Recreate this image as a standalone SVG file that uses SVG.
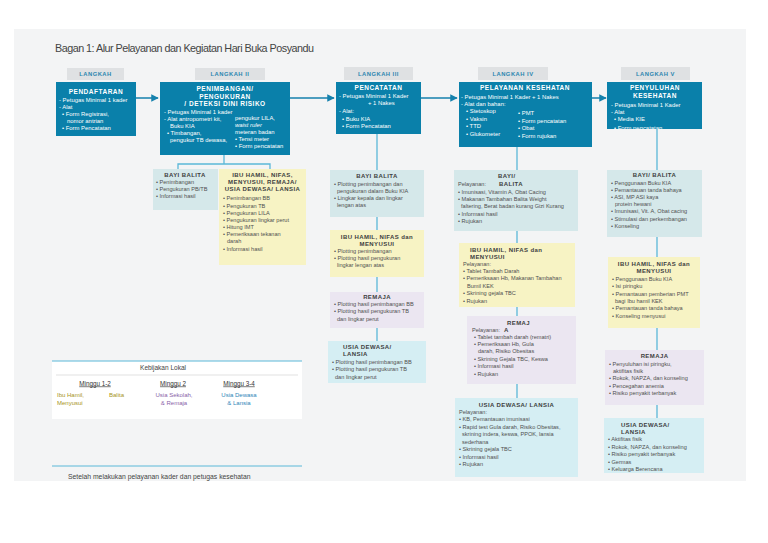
<svg xmlns="http://www.w3.org/2000/svg" width="768" height="543" viewBox="0 0 768 543">
<defs>
<style>
text{font-family:"Liberation Sans",Arial,sans-serif}
.w{fill:#fff;font-size:5.9px}
.wb{fill:#fff;font-size:6.5px;font-weight:bold;letter-spacing:0.5px}
.g{fill:#505050;font-size:5.6px}
.gb{fill:#404040;font-size:6px;font-weight:bold;letter-spacing:0.4px}
.h{fill:#2c86b0;font-size:5.8px;font-weight:bold;letter-spacing:0.5px}
.hd{fill:#dfe1e3}
.bx{fill:#0a80aa}
.teal{fill:#d5e8ea}
.yel{fill:#f7f3c4}
.lav{fill:#ebe6f1}
.cy{fill:#d5eef3}
.ln{stroke:#5bb8d8;stroke-width:1.3;fill:none}
.ar{stroke:#1581ad;stroke-width:1.5;fill:none}
</style>
<marker id="ah" viewBox="0 0 10 10" refX="9" refY="5" markerWidth="5" markerHeight="5" orient="auto">
<path d="M0,0 L10,5 L0,10 z" fill="#1581ad"/>
</marker>
<clipPath id="panel"><rect x="14" y="29" width="732" height="452"/></clipPath>
<clipPath id="c5"><rect x="607" y="82" width="95" height="47"/></clipPath>
</defs>
<rect width="768" height="543" fill="#fff"/>
<rect x="14" y="29" width="732" height="452" fill="#f3f4f5"/>
<text x="55" y="52" style="font-size:10.8px;fill:#444" textLength="259">Bagan 1: Alur Pelayanan dan Kegiatan Hari Buka Posyandu</text>

<g id="connectors">
<line class="ar" x1="136" y1="98" x2="158" y2="98" marker-end="url(#ah)"/>
<line class="ar" x1="290" y1="98" x2="334" y2="98" marker-end="url(#ah)"/>
<line class="ar" x1="421" y1="98" x2="457" y2="98" marker-end="url(#ah)"/>
<line class="ar" x1="592" y1="98" x2="606" y2="98" marker-end="url(#ah)"/>
<path class="ln" d="M224,155 V164 M178,170 V164 H270 V170"/>
<path class="ln" d="M377,134 V170 M377,217 V230 M377,277 V292 M377,328 V341"/>
<path class="ln" d="M517,147 V170 M517,231 V243 M517,307 V316 M517,384 V398"/>
<path class="ln" d="M657,129 V170 M657,237 V257 M657,328 V350 M657,405 V418"/>
</g>

<g id="step1">
<rect class="hd" x="67" y="68" width="57" height="12"/>
<text class="h" x="95.5" y="76.2" text-anchor="middle">LANGKAH</text>
<rect class="bx" x="56" y="82" width="80" height="54"/>
<text class="wb" x="96" y="94" text-anchor="middle">PENDAFTARAN</text>
<text class="w" x="59" y="102">- Petugas Minimal 1 kader</text>
<text class="w" x="59" y="109">- Alat</text>
<text class="w" x="62" y="116">• Form Registrasi,</text>
<text class="w" x="67" y="122.5">nomor antrian</text>
<text class="w" x="62" y="130">• Form Pencatatan</text>
</g>

<g id="step2">
<rect class="hd" x="195" y="68" width="70" height="12"/>
<text class="h" x="230" y="76.2" text-anchor="middle">LANGKAH II</text>
<rect class="bx" x="160" y="82" width="130" height="73"/>
<text class="wb" x="225" y="91" text-anchor="middle">PENIMBANGAN/</text>
<text class="wb" x="225" y="98.5" text-anchor="middle">PENGUKURAN</text>
<text class="wb" x="225" y="106" text-anchor="middle">/ DETEKSI DINI RISIKO</text>
<text class="w" x="164" y="114">- Petugas Minimal 1 kader</text>
<text class="w" x="164" y="121">- Alat antropometri kit,</text>
<text class="w" x="170" y="128">Buku KIA</text>
<text class="w" x="167" y="135">• Timbangan,</text>
<text class="w" x="170" y="142">pengukur TB dewasa,</text>
<text class="w" x="235" y="120">pengukur LILA,</text>
<text class="w" x="235" y="127" font-style="italic">waist ruler</text>
<text class="w" x="235" y="134">meteran badan</text>
<text class="w" x="235" y="141">• Tensi meter</text>
<text class="w" x="235" y="148">• Form pencatatan</text>
</g>

<g id="step3">
<rect class="hd" x="344" y="67" width="69" height="13"/>
<text class="h" x="378.5" y="75.7" text-anchor="middle">LANGKAH III</text>
<rect class="bx" x="336" y="82" width="85" height="52"/>
<text class="wb" x="378.5" y="90" text-anchor="middle">PENCATATAN</text>
<text class="w" x="339" y="97.5">- Petugas Minimal 1 Kader</text>
<text class="w" x="368" y="104.5">+ 1 Nakes</text>
<text class="w" x="339" y="113">- Alat:</text>
<text class="w" x="342" y="120.5">• Buku KIA</text>
<text class="w" x="342" y="128">• Form Pencatatan</text>
</g>

<g id="step4">
<rect class="hd" x="478" y="67" width="70" height="13"/>
<text class="h" x="513" y="75.7" text-anchor="middle">LANGKAH IV</text>
<rect class="bx" x="459" y="82" width="133" height="65"/>
<text class="wb" x="525" y="90" text-anchor="middle">PELAYANAN KESEHATAN</text>
<text class="w" x="461" y="98.5">- Petugas Minimal 1 Kader + 1 Nakes</text>
<text class="w" x="461" y="105.5">- Alat dan bahan:</text>
<text class="w" x="466" y="113">• Stetoskop</text>
<text class="w" x="466" y="120.5">• Vaksin</text>
<text class="w" x="466" y="128">• TTD</text>
<text class="w" x="466" y="135.5">• Glukometer</text>
<text class="w" x="518" y="115">• PMT</text>
<text class="w" x="518" y="122.5">• Form pencatatan</text>
<text class="w" x="518" y="130">• Obat</text>
<text class="w" x="518" y="137.5">• Form rujukan</text>
</g>

<g id="step5">
<rect class="hd" x="621" y="67" width="69" height="13"/>
<text class="h" x="655.5" y="75.7" text-anchor="middle">LANGKAH V</text>
<rect class="bx" x="607" y="82" width="95" height="47"/>
<text class="wb" x="655" y="90" text-anchor="middle">PENYULUHAN</text>
<text class="wb" x="655" y="97.5" text-anchor="middle">KESEHATAN</text>
<g clip-path="url(#c5)">
<text class="w" x="611" y="106.5">- Petugas Minimal 1 Kader</text>
<text class="w" x="611" y="113.5">- Alat</text>
<text class="w" x="614" y="121">• Media KIE</text>
<text class="w" x="614" y="130">• Form pencatatan</text>
</g>
</g>

<g id="s2-bayi">
<rect class="teal" x="153" y="169" width="65" height="41"/>
<text class="gb" x="185" y="176.5" text-anchor="middle">BAYI BALITA</text>
<text class="g" x="156" y="184">• Penimbangan</text>
<text class="g" x="156" y="191">• Pengukuran PB/TB</text>
<text class="g" x="156" y="198">• Informasi hasil</text>
</g>
<g id="s2-ibu">
<rect class="yel" x="219" y="169" width="87" height="96"/>
<text class="gb" x="262.5" y="177" text-anchor="middle">IBU HAMIL, NIFAS,</text>
<text class="gb" x="262.5" y="184" text-anchor="middle">MENYUSUI, REMAJA/</text>
<text class="gb" x="262.5" y="191" text-anchor="middle">USIA DEWASA/ LANSIA</text>
<text class="g" x="223" y="200">• Penimbangan BB</text>
<text class="g" x="223" y="207.5">• Pengukuran TB</text>
<text class="g" x="223" y="214.5">• Pengukuran LILA</text>
<text class="g" x="223" y="221.5">• Pengukuran lingkar perut</text>
<text class="g" x="223" y="229">• Hitung IMT</text>
<text class="g" x="223" y="236">• Pemeriksaan tekanan</text>
<text class="g" x="227" y="243">darah</text>
<text class="g" x="223" y="250.5">• Informasi hasil</text>
</g>

<g id="s3-bayi">
<rect class="teal" x="330" y="170" width="94" height="47"/>
<text class="gb" x="377" y="178" text-anchor="middle">BAYI BALITA</text>
<text class="g" x="334" y="185.5">• Plotting penimbangan dan</text>
<text class="g" x="337" y="192.5">pengukuran dalam Buku KIA</text>
<text class="g" x="334" y="200">• Lingkar kepala dan lingkar</text>
<text class="g" x="337" y="207">lengan atas</text>
</g>
<g id="s3-ibu">
<rect class="yel" x="330" y="230" width="94" height="47"/>
<text class="gb" x="377" y="238.5" text-anchor="middle">IBU HAMIL, NIFAS dan</text>
<text class="gb" x="377" y="245.5" text-anchor="middle">MENYUSUI</text>
<text class="g" x="334" y="252.5">• Plotting penimbangan</text>
<text class="g" x="334" y="259.5">• Plotting hasil pengukuran</text>
<text class="g" x="337" y="267">lingkar lengan atas</text>
</g>
<g id="s3-remaja">
<rect class="lav" x="330" y="292" width="94" height="36"/>
<text class="gb" x="377" y="299" text-anchor="middle">REMAJA</text>
<text class="g" x="334" y="306">• Plotting hasil penimbangan BB</text>
<text class="g" x="334" y="313">• Plotting hasil pengukuran TB</text>
<text class="g" x="337" y="320.5">dan lingkar perut</text>
</g>
<g id="s3-dewasa">
<rect class="cy" x="328" y="341" width="98" height="42"/>
<text class="gb" x="343" y="349">USIA DEWASA/</text>
<text class="gb" x="343" y="356">LANSIA</text>
<text class="g" x="332" y="363.5">• Plotting hasil penimbangan BB</text>
<text class="g" x="332" y="371">• Plotting hasil pengukuran TB</text>
<text class="g" x="335" y="378.5">dan lingkar perut</text>
</g>

<g id="s4-bayi">
<rect class="teal" x="454" y="170" width="124" height="61"/>
<text class="gb" x="498" y="177.5">BAYI/</text>
<text class="g" x="458" y="186">Pelayanan:</text>
<text class="gb" x="499" y="185.5">BALITA</text>
<text class="g" x="458" y="193.5">• Imunisasi, Vitamin A, Obat Cacing</text>
<text class="g" x="458" y="200.5">• Makanan Tambahan Balita Weight</text>
<text class="g" x="461" y="208">faltering, Berat badan kurang Gizi Kurang</text>
<text class="g" x="458" y="215.5">• Informasi hasil</text>
<text class="g" x="458" y="223">• Rujukan</text>
</g>
<g id="s4-ibu">
<rect class="yel" x="459" y="243" width="116" height="64"/>
<text class="gb" x="470" y="251.5">IBU HAMIL, NIFAS dan</text>
<text class="gb" x="470" y="258.5">MENYUSUI</text>
<text class="g" x="463" y="265.5">Pelayanan:</text>
<text class="g" x="463" y="273">• Tablet Tambah Darah</text>
<text class="g" x="463" y="280">• Pemeriksaan Hb, Makanan Tambahan</text>
<text class="g" x="467" y="287.5">Bumil KEK</text>
<text class="g" x="463" y="295">• Skrining gejala TBC</text>
<text class="g" x="463" y="302.5">• Rujukan</text>
</g>
<g id="s4-remaja">
<rect class="lav" x="467" y="316" width="109" height="68"/>
<text class="gb" x="507" y="324.5">REMAJ</text>
<text class="g" x="472" y="332">Pelayanan:</text>
<text class="gb" x="504" y="331.5">A</text>
<text class="g" x="474" y="339">• Tablet tambah darah (rematri)</text>
<text class="g" x="474" y="346">• Pemeriksaan Hb, Gula</text>
<text class="g" x="478" y="353">darah,   Risiko Obesitas</text>
<text class="g" x="474" y="361">• Skrining Gejala TBC, Keswa</text>
<text class="g" x="474" y="368">• Informasi hasil</text>
<text class="g" x="474" y="375.5">• Rujukan</text>
</g>
<g id="s4-dewasa">
<rect class="cy" x="455" y="398" width="123" height="79"/>
<text class="gb" x="516.5" y="406.5" text-anchor="middle">USIA DEWASA/ LANSIA</text>
<text class="g" x="459" y="413.5">Pelayanan:</text>
<text class="g" x="459" y="421">• KB, Pemantauan imunisasi</text>
<text class="g" x="459" y="428.5">• Rapid test Gula darah, Risiko Obesitas,</text>
<text class="g" x="462" y="436">skrining indera, keswa, PPOK, lansia</text>
<text class="g" x="462" y="443.5">sederhana</text>
<text class="g" x="459" y="451">• Skrining gejala TBC</text>
<text class="g" x="459" y="458.5">• Informasi hasil</text>
<text class="g" x="459" y="466">• Rujukan</text>
</g>

<g id="s5-bayi">
<rect class="teal" x="607" y="170" width="95" height="67"/>
<text class="gb" x="654.5" y="177" text-anchor="middle">BAYI/ BALITA</text>
<text class="g" x="611" y="184.5">• Penggunaan Buku KIA</text>
<text class="g" x="611" y="191.5">• Pemantauan tanda bahaya</text>
<text class="g" x="611" y="198.5">• ASI, MP ASI kaya</text>
<text class="g" x="615" y="205.5">protein  hewani</text>
<text class="g" x="611" y="213">• Imunisasi, Vit. A, Obat cacing</text>
<text class="g" x="611" y="220.5">• Stimulasi dan perkembangan</text>
<text class="g" x="611" y="228">• Konseling</text>
</g>
<g id="s5-ibu">
<rect class="yel" x="608" y="257" width="92" height="71"/>
<text class="gb" x="654" y="265.5" text-anchor="middle">IBU HAMIL, NIFAS dan</text>
<text class="gb" x="654" y="273" text-anchor="middle">MENYUSUI</text>
<text class="g" x="612" y="281">• Penggunaan Buku KIA</text>
<text class="g" x="612" y="288">• Isi piringku</text>
<text class="g" x="612" y="295.5">• Pemantauan pemberian PMT</text>
<text class="g" x="615" y="302.5">bagi Ibu hamil KEK</text>
<text class="g" x="612" y="310">• Pemantauan tanda bahaya</text>
<text class="g" x="612" y="317.5">• Konseling menyusui</text>
</g>
<g id="s5-remaja">
<rect class="lav" x="605" y="350" width="99" height="55"/>
<text class="gb" x="654.5" y="358" text-anchor="middle">REMAJA</text>
<text class="g" x="609" y="365.5">• Penyuluhan isi piringku,</text>
<text class="g" x="613" y="372.5">aktifitas fisik</text>
<text class="g" x="609" y="380">• Rokok, NAPZA, dan konseling</text>
<text class="g" x="609" y="387.5">• Pencegahan anemia</text>
<text class="g" x="609" y="395">• Risiko penyakit terbanyak</text>
</g>
<g id="s5-dewasa">
<rect class="cy" x="604" y="418" width="100" height="55"/>
<text class="gb" x="621" y="426.5">USIA DEWASA/</text>
<text class="gb" x="621" y="433.5">LANSIA</text>
<text class="g" x="608" y="441">• Aktifitas fisik</text>
<text class="g" x="608" y="448.5">• Rokok, NAPZA, dan konseling</text>
<text class="g" x="608" y="456">• Risiko penyakit terbanyak</text>
<text class="g" x="608" y="463.5">• Germas</text>
<text class="g" x="608" y="471">• Keluarga Berencana</text>
</g>

<g id="kebijakan">
<rect x="52" y="361" width="250" height="58" fill="#fff"/>
<line x1="52" y1="361" x2="302" y2="361" stroke="#5bb8d8" stroke-width="1"/>
<text x="163" y="370" text-anchor="middle" style="font-size:6.5px;fill:#444">Kebijakan Lokal</text>
<line x1="56" y1="375" x2="298" y2="375" stroke="#ccc" stroke-width="0.6"/>
<text x="95" y="385.5" text-anchor="middle" style="font-size:6.3px;fill:#333;text-decoration:underline">Minggu  1-2</text>
<text x="173" y="385.5" text-anchor="middle" style="font-size:6.3px;fill:#333;text-decoration:underline">Minggu  2</text>
<text x="239" y="385.5" text-anchor="middle" style="font-size:6.3px;fill:#333;text-decoration:underline">Minggu  3-4</text>
<text x="57" y="397" style="font-size:6px;fill:#a69422">Ibu Hamil,</text>
<text x="109" y="397" style="font-size:6px;fill:#a69422">Balita</text>
<text x="57" y="405" style="font-size:6px;fill:#a69422">Menyusui</text>
<text x="174" y="397" text-anchor="middle" style="font-size:6px;fill:#8a63a8">Usia Sekolah,</text>
<text x="174" y="405" text-anchor="middle" style="font-size:6px;fill:#8a63a8">&amp; Remaja</text>
<text x="239" y="397" text-anchor="middle" style="font-size:6px;fill:#2f86b8">Usia Dewasa</text>
<text x="239" y="405" text-anchor="middle" style="font-size:6px;fill:#2f86b8">&amp;  Lansia</text>
</g>
<g id="footer" clip-path="url(#panel)">
<line x1="52" y1="466" x2="302" y2="466" stroke="#5bb8d8" stroke-width="1"/>
<text x="68" y="479" style="font-size:6.8px;fill:#444">Setelah melakukan pelayanan kader dan petugas kesehatan</text>
</g>
</svg>
